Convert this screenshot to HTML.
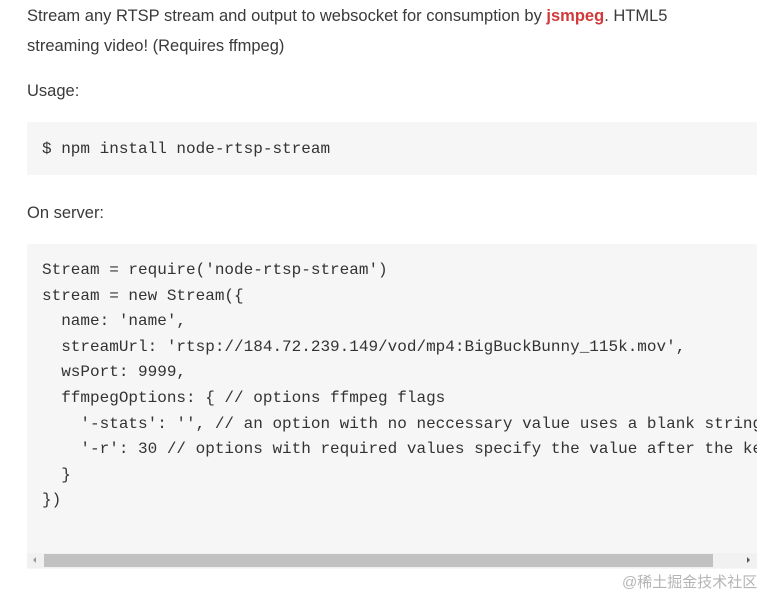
<!DOCTYPE html>
<html><head><style>
body{margin:0;width:773px;height:597px;background:#fff;position:relative;overflow:hidden;font-family:"Liberation Sans",sans-serif;color:#333}
.t{position:absolute;left:27px;font-size:16.5px;white-space:nowrap;color:#3a3a3a}
.t a{color:#d03a3a;text-decoration:none;font-weight:bold}
.box{position:absolute;left:27px;width:730px;background:#f6f6f6}
pre{margin:0;position:absolute;left:42px;font-family:"Liberation Mono",monospace;font-size:16px;line-height:25.6px;color:#333;white-space:pre}
</style></head><body>
<div class="t" style="top:7px">Stream any RTSP stream and output to websocket for consumption by <a>jsmpeg</a>. HTML5</div>
<div class="t" style="top:37px">streaming video! (Requires ffmpeg)</div>
<div class="t" style="top:82px">Usage:</div>
<div class="box" style="top:122px;height:53px"></div>
<pre style="top:137px">$ npm install node-rtsp-stream</pre>
<div class="t" style="top:204px">On server:</div>
<div class="box" style="top:244px;height:325px;overflow:hidden"></div>
<pre style="top:258px;width:715px;overflow:hidden">Stream = require('node-rtsp-stream')
stream = new Stream({
  name: 'name',
  streamUrl: 'rtsp://184.72.239.149/vod/mp4:BigBuckBunny_115k.mov',
  wsPort: 9999,
  ffmpegOptions: { // options ffmpeg flags
    '-stats': '', // an option with no neccessary value uses a blank string
    '-r': 30 // options with required values specify the value after the key
  }
})</pre>
<div style="position:absolute;left:27px;top:553px;width:730px;height:15px;background:#f1f1f1"></div>
<div style="position:absolute;left:44px;top:554px;width:669px;height:13px;background:#c1c1c1"></div>
<div style="position:absolute;left:33px;top:557px;width:0;height:0;border-top:3px solid transparent;border-bottom:3px solid transparent;border-right:3px solid #999"></div>
<div style="position:absolute;left:747px;top:557px;width:0;height:0;border-top:3px solid transparent;border-bottom:3px solid transparent;border-left:3px solid #555"></div>
<div style="position:absolute;left:622px;top:571px;font-size:15px;color:#b5b5b5;font-family:'Liberation Sans','Noto Sans CJK SC',sans-serif">@稀土掘金技术社区</div>
</body></html>
